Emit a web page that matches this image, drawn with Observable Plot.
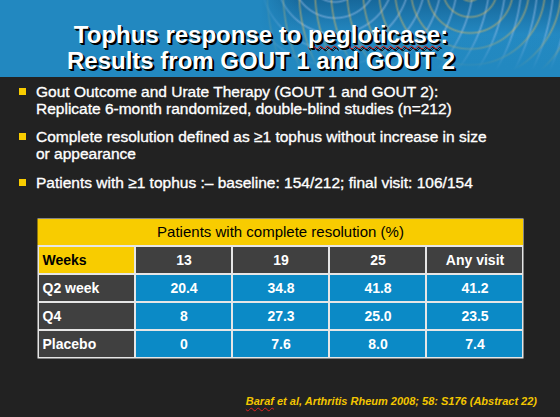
<!DOCTYPE html>
<html>
<head>
<meta charset="utf-8">
<script src="https://cdn.jsdelivr.net/npm/d3@7"></script>
<script src="https://cdn.jsdelivr.net/npm/@observablehq/plot@0.6"></script>
<style>
  html, body { margin: 0; padding: 0; background: #222222; }
  #slide { position: relative; width: 560px; height: 417px; overflow: hidden; background: #222222; font-family: "Liberation Sans", Arial, sans-serif; }
  #band { position: absolute; left: 0; top: 0; width: 560px; height: 77px;
    background:
      repeating-radial-gradient(circle at 470px -10px, rgba(230,190,90,0) 0px, rgba(230,190,90,0) 9px, rgba(230,190,90,0.4) 11px, rgba(230,190,90,0) 13px, rgba(230,190,90,0) 16px),
      repeating-radial-gradient(circle at 335px -25px, rgba(170,200,240,0) 0px, rgba(170,200,240,0) 9px, rgba(170,200,240,0.4) 11px, rgba(170,200,240,0) 13px, rgba(170,200,240,0) 16px),
      linear-gradient(#17689b, #2489c2 45%, #2288c0);
  }
  #band::after { content: ""; position: absolute; left: 0; top: 0; right: 0; bottom: 0;
    background: linear-gradient(90deg, #2288c0 0px, #2288c0 260px, rgba(34,136,192,0) 300px, rgba(34,136,192,0) 560px),
                linear-gradient(rgba(34,136,192,0) 0px, rgba(34,136,192,0) 30px, rgba(34,136,192,1) 70px);
  }
  #title { position: absolute; left: 0; top: 22px; width: 522px; text-align: center; color: #fff; font-weight: bold; font-size: 24px; line-height: 26px; text-shadow: 2px 2px 0 #000, 1px 1px 0 #000; z-index: 2; }
  .sp { text-decoration: underline wavy #d22; text-decoration-thickness: 1px; text-underline-offset: 2px; }
  .bullet { position: absolute; left: 36px; width: 520px; color: #fff; font-size: 15.5px; line-height: 16.5px; -webkit-text-stroke: 0.35px #fff; }
  .bullet::before { content: ""; position: absolute; left: -17px; top: 4px; width: 7px; height: 7px; background: #f8cc00; -webkit-text-stroke: 0; }
  #chart { position: absolute; left: 0; top: 205px; }
  #cite { position: absolute; right: 23px; top: 395px; color: #f3c600; font-size: 11px; line-height: 12px; font-weight: bold; font-style: italic; white-space: nowrap; }
</style>
</head>
<body>
<div id="slide">
  <div id="band"></div>
  <div id="title">Tophus response to <span class="sp">pegloticase</span>:<br>Results from GOUT 1 and GOUT 2</div>
  <div class="bullet" style="top:84px">Gout Outcome and Urate Therapy (GOUT 1 and GOUT 2):<br>Replicate 6-month randomized, double-blind studies (n=212)</div>
  <div class="bullet" style="top:129px">Complete resolution defined as ≥1 tophus without increase in size<br>or appearance</div>
  <div class="bullet" style="top:175px">Patients with ≥1 tophus :– baseline: 154/212; final visit: 106/154</div>
  <div id="chart"></div>
  <div id="cite"><span class="sp">Baraf</span> et al, Arthritis Rheum 2008; 58: S176 (Abstract 22)</div>
</div>
<script>
const tableTitle = "Patients with complete resolution (%)";
const headerLabel = "Weeks";
const weeks = ["13", "19", "25", "Any visit"];
const groups = ["Q2 week", "Q4", "Placebo"];
const q2week = [20.4, 34.8, 41.8, 41.2];
const q4 = [8, 27.3, 25.0, 23.5];
const placebo = [0, 7.6, 8.0, 7.4];

const series = [q2week, q4, placebo];
const values = groups.flatMap((g, i) => weeks.map((w, j) => ({group: g, week: w, value: series[i][j]})));
const fmt = d => d.week === "13" ? String(d.value) : d.value.toFixed(1);

const rows = ["title", headerLabel, ...groups];
const cols = [headerLabel, ...weeks];

const yellow = "#f8cc00", gray = "#404040", blue = "#0b8ac6", bg = "#222222";

const chart = Plot.plot({
  width: 560,
  height: 160,
  marginTop: 12,
  marginBottom: 6,
  marginLeft: 36,
  marginRight: 36,
  style: {fontFamily: "'Liberation Sans', Arial, sans-serif", background: "transparent"},
  x: {type: "band", domain: cols, padding: 0, axis: null},
  y: {type: "band", domain: rows, padding: 0, axis: null},
  marks: [
    Plot.frame({fill: "#e6e6e6"}),
    Plot.cell([tableTitle], {y: () => "title", fill: yellow, inset: 1}),
    Plot.cell([headerLabel], {x: d => d, y: () => headerLabel, fill: yellow, inset: 1}),
    Plot.cell(weeks, {x: d => d, y: () => headerLabel, fill: gray, inset: 1}),
    Plot.cell(groups, {x: () => headerLabel, y: d => d, fill: gray, inset: 1}),
    Plot.cell(values, {x: "week", y: "group", fill: blue, inset: 1}),
    Plot.frame({stroke: bg, strokeWidth: 2}),
    Plot.text([tableTitle], {y: () => "title", text: d => d, fill: "#000", fontSize: 15, frameAnchor: "middle"}),
    Plot.text([headerLabel], {y: () => headerLabel, text: d => d, fill: "#000", fontSize: 14, fontWeight: "bold", frameAnchor: "left", dx: 6}),
    Plot.text(weeks, {x: d => d, y: () => headerLabel, text: d => d, fill: "#fff", fontSize: 14, fontWeight: "bold"}),
    Plot.text(groups, {y: d => d, text: d => d, fill: "#fff", fontSize: 14, fontWeight: "bold", frameAnchor: "left", dx: 6}),
    Plot.text(values, {x: "week", y: "group", text: fmt, fill: "#fff", fontSize: 14, fontWeight: "bold"})
  ]
});
document.getElementById("chart").appendChild(chart);
</script>
</body>
</html>
